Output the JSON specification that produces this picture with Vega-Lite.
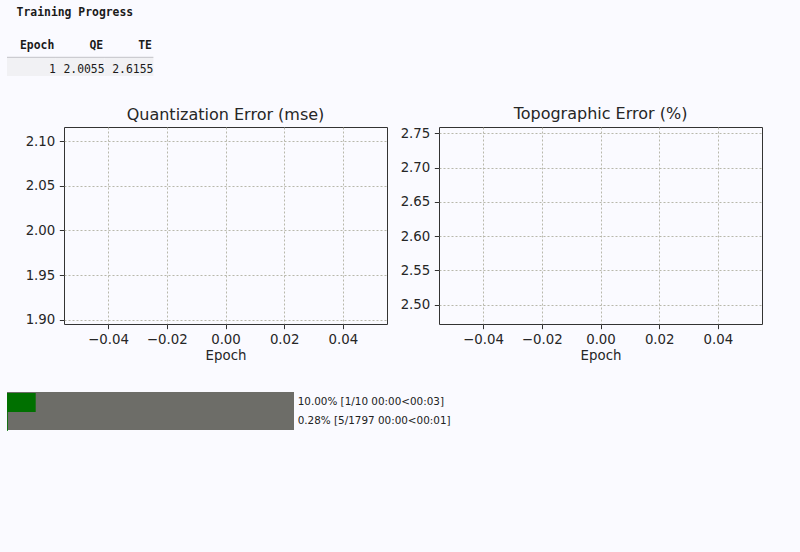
{
  "$schema": "https://vega.github.io/schema/vega-lite/v6.json",
  "background": "#fafaff",
  "padding": {"left": 6, "top": 0, "right": 37, "bottom": 121},
  "bounds": "full",
  "spacing": 29,
  "datasets": {
    "history": [{"index": 0, "Epoch": 1, "QE": 2.0055, "TE": 2.6155}],
    "caption": [{"row": "header", "col": "Epoch", "text": "Training Progress"}],
    "table": [
      {"row": "header", "col": "Epoch", "text": "Epoch"},
      {"row": "header", "col": "QE", "text": "QE"},
      {"row": "header", "col": "TE", "text": "TE"},
      {"row": "data", "col": "Epoch", "text": "1"},
      {"row": "data", "col": "QE", "text": "2.0055"},
      {"row": "data", "col": "TE", "text": "2.6155"}
    ],
    "progress": [
      {"bar": "epochs", "total": 1, "frac": 0.1, "label": "10.00% [1/10 00:00<00:03]"},
      {"bar": "batches", "total": 1, "frac": 0.0028, "label": "0.28% [5/1797 00:00<00:01]"}
    ]
  },
  "vconcat": [
    {
      "width": 146.4,
      "height": 76,
      "data": {"name": "table"},
      "encoding": {
        "x": {"field": "col", "type": "nominal", "axis": null,
              "scale": {"type": "band", "domain": ["Epoch", "QE", "TE"], "paddingInner": 0, "paddingOuter": 0}},
        "y": {"field": "row", "type": "nominal", "axis": null,
              "scale": {"type": "band", "domain": ["header", "data"], "paddingInner": 0, "paddingOuter": 1, "align": 1}}
      },
      "layer": [
        {
          "transform": [{"filter": "datum.row === 'data'"}],
          "mark": {"type": "rect", "fill": "#f1f1f4"}
        },
        {
          "transform": [{"filter": "datum.row === 'header' && datum.col === 'Epoch'"}],
          "mark": {"type": "rule", "color": "#c4c4c8", "strokeWidth": 1, "yOffset": 9.8},
          "encoding": {"x": null}
        },
        {
          "transform": [{"filter": "datum.row === 'header'"}],
          "mark": {"type": "text", "font": "DejaVu Sans Mono", "fontSize": 11.4, "fontWeight": "bold", "align": "right", "baseline": "alphabetic", "dx": -1.5, "dy": 1.8, "color": "#1a1a1a"},
          "encoding": {"x": {"field": "col", "type": "nominal", "bandPosition": 1}, "text": {"field": "text"}}
        },
        {
          "transform": [{"filter": "datum.row === 'data'"}],
          "mark": {"type": "text", "font": "DejaVu Sans Mono", "fontSize": 11.4, "align": "right", "baseline": "alphabetic", "dx": 0, "dy": 6, "color": "#1a1a1a"},
          "encoding": {"x": {"field": "col", "type": "nominal", "bandPosition": 1}, "text": {"field": "text"}}
        },
        {
          "data": {"name": "caption"},
          "mark": {"type": "text", "font": "DejaVu Sans Mono", "fontSize": 11.4, "fontWeight": "bold", "align": "left", "baseline": "alphabetic", "dx": 9.6, "dy": -31.5, "color": "#1a1a1a"},
          "encoding": {"x": {"field": "col", "type": "nominal", "bandPosition": 0}, "text": {"field": "text"}}
        }
      ]
    },
    {
      "hconcat": [
        {"width": 5, "height": 197, "data": {"values": [{"t": ""}]}, "mark": {"type": "text"}, "encoding": {"text": {"field": "t"}}},
        {
          "width": 323,
          "height": 197,
          "title": {"text": "Quantization Error (mse)"},
          "view": {"stroke": "#333333", "strokeWidth": 1},
          "data": {"name": "history"},
          "mark": {"type": "line", "color": "#1f77b4"},
          "encoding": {
            "x": {"field": "index", "type": "quantitative", "title": "Epoch",
                  "scale": {"domain": [-0.055, 0.055], "nice": false, "zero": false},
                  "axis": {"values": [-0.04, -0.02, 0, 0.02, 0.04], "format": ".2f"}},
            "y": {"field": "QE", "type": "quantitative", "title": null,
                  "scale": {"domain": [1.8951975, 2.1158025], "nice": false, "zero": false},
                  "axis": {"values": [1.9, 1.95, 2.0, 2.05, 2.1], "format": ".2f"}}
          }
        },
        {
          "width": 323,
          "height": 197,
          "title": {"text": "Topographic Error (%)"},
          "view": {"stroke": "#333333", "strokeWidth": 1},
          "data": {"name": "history"},
          "mark": {"type": "line", "color": "#1f77b4"},
          "encoding": {
            "x": {"field": "index", "type": "quantitative", "title": "Epoch",
                  "scale": {"domain": [-0.055, 0.055], "nice": false, "zero": false},
                  "axis": {"values": [-0.04, -0.02, 0, 0.02, 0.04], "format": ".2f"}},
            "y": {"field": "TE", "type": "quantitative", "title": null,
                  "scale": {"domain": [2.4716475, 2.7593525], "nice": false, "zero": false},
                  "axis": {"values": [2.5, 2.55, 2.6, 2.65, 2.7, 2.75], "format": ".2f"}}
          }
        }
      ],
      "spacing": 52,
      "bounds": "flush"
    },
    {
      "width": 287,
      "height": 38,
      "data": {"name": "progress"},
      "encoding": {
        "y": {"field": "bar", "type": "nominal", "axis": null,
              "scale": {"type": "band", "domain": ["epochs", "batches"], "paddingInner": 0, "paddingOuter": 0}}
      },
      "layer": [
        {
          "mark": {"type": "bar", "fill": "#6d6d68"},
          "encoding": {
            "x": {"field": "total", "type": "quantitative", "axis": null, "scale": {"domain": [0, 1], "nice": false}}
          }
        },
        {
          "mark": {"type": "bar", "fill": "#007000", "x2Offset": 1, "yOffset": 1},
          "encoding": {
            "x": {"field": "frac", "type": "quantitative"}
          }
        },
        {
          "mark": {"type": "text", "font": "DejaVu Sans", "fontSize": 10.4, "align": "left", "baseline": "middle", "dx": 3.7, "color": "#222222"},
          "encoding": {
            "x": {"field": "total", "type": "quantitative"},
            "text": {"field": "label"}
          }
        }
      ]
    }
  ],
  "config": {
    "font": "DejaVu Sans",
    "view": {"stroke": null},
    "axis": {
      "labelFont": "DejaVu Sans", "labelFontSize": 13.33, "labelColor": "#262626",
      "tickColor": "#333333", "tickSize": 4.67, "tickWidth": 1, "labelPadding": 4.5,
      "domain": false, "grid": true, "gridColor": "#b0b0a2", "gridWidth": 0.9, "gridDash": [2, 2],
      "labelOverlap": false, "labelFlush": false,
      "titleFont": "DejaVu Sans", "titleFontSize": 13.33, "titleFontWeight": "normal", "titleColor": "#262626", "titlePadding": 3
    },
    "axisX": {"labelPadding": 3.5},
    "title": {"font": "DejaVu Sans", "fontSize": 16, "fontWeight": "normal", "color": "#262626", "baseline": "alphabetic", "offset": 4.5}
  }
}
